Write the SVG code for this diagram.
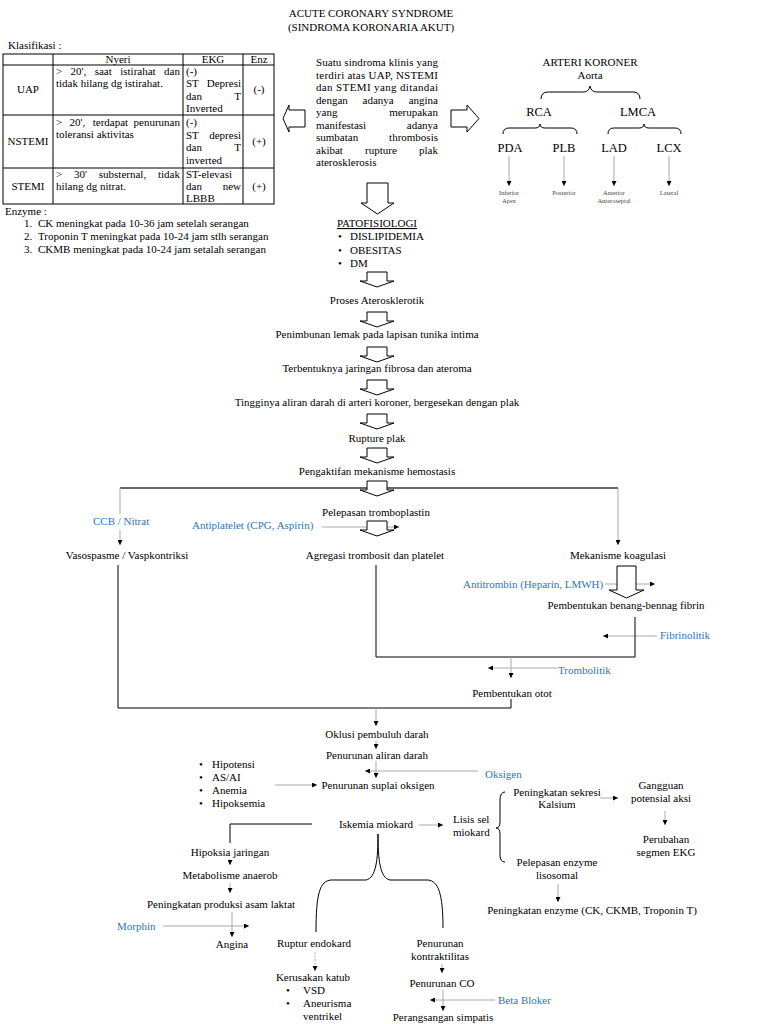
<svg xmlns="http://www.w3.org/2000/svg" width="768" height="1024" viewBox="0 0 768 1024">
<style>
text{font-family:"Liberation Serif","Times New Roman",serif;font-size:11px;fill:#000}
.c{text-anchor:middle}
.e{text-anchor:end}
.b{fill:#2E75B6}
.sm{font-size:6.5px;fill:#444}
.lg{font-size:12.5px}
.ln{stroke:#000;stroke-width:1;fill:none}
.dk{stroke:#333;stroke-width:1.3;fill:none}
.gl{stroke:#aaa;stroke-width:1;fill:none}
.ha{fill:#fff;stroke:#000;stroke-width:1}
.tb{fill:none;stroke:#000;stroke-width:1}
</style>
<defs>
<marker id="ah" viewBox="0 0 10 10" refX="10" refY="5" markerWidth="5" markerHeight="5" orient="auto" markerUnits="userSpaceOnUse"><path d="M0,0 L10,5 L0,10 z" fill="#000"/></marker>
<path id="sa" d="M-10,0 H10 V9 H17 L0,15 L-17,9 H-10 Z"/>
</defs>
<rect width="768" height="1024" fill="#fff"/>

<g id="title">
<text x="371" y="17" class="c">ACUTE CORONARY SYNDROME</text>
<text x="371" y="31" class="c">(SINDROMA KORONARIA AKUT)</text>
</g>

<g id="klasifikasi">
<text x="8" y="49">Klasifikasi :</text>
<rect x="3" y="54" width="271" height="150" class="tb"/>
<line x1="3" y1="65" x2="274" y2="65" class="tb"/>
<line x1="3" y1="115" x2="274" y2="115" class="tb"/>
<line x1="3" y1="168" x2="274" y2="168" class="tb"/>
<line x1="53" y1="54" x2="53" y2="204" class="tb"/>
<line x1="183" y1="54" x2="183" y2="204" class="tb"/>
<line x1="243" y1="54" x2="243" y2="204" class="tb"/>
<text x="118" y="63" class="c">Nyeri</text>
<text x="213" y="63" class="c">EKG</text>
<text x="259" y="63" class="c">Enz</text>
<text x="28" y="93" class="c">UAP</text>
<text x="56" y="75">&gt;</text><text x="70.6" y="75">20',</text><text x="94.7" y="75">saat</text><text x="120.2" y="75">istirahat</text><text x="180" y="75" class="e">dan</text>
<text x="56" y="87">tidak hilang dg istirahat.</text>
<text x="186" y="75">(-)</text>
<text x="186" y="87">ST</text><text x="241" y="87" class="e">Depresi</text>
<text x="186" y="99.5">dan</text><text x="241" y="99.5" class="e">T</text>
<text x="186" y="112">Inverted</text>
<text x="259" y="93" class="c">(-)</text>
<text x="28" y="145" class="c">NSTEMI</text>
<text x="56" y="126">&gt;</text><text x="69.6" y="126">20',</text><text x="92.7" y="126">terdapat</text><text x="180" y="126" class="e">penurunan</text>
<text x="56" y="138">toleransi aktivitas</text>
<text x="186" y="126">(-)</text>
<text x="186" y="138.5">ST</text><text x="241" y="138.5" class="e">depresi</text>
<text x="186" y="151">dan</text><text x="241" y="151" class="e">T</text>
<text x="186" y="164">inverted</text>
<text x="259" y="145" class="c">(+)</text>
<text x="28" y="190" class="c">STEMI</text>
<text x="56" y="178">&gt;</text><text x="74" y="178">30'</text><text x="98.8" y="178">substernal,</text><text x="180" y="178" class="e">tidak</text>
<text x="56" y="190">hilang dg nitrat.</text>
<text x="186" y="178">ST-elevasi</text>
<text x="186" y="190">dan</text><text x="241" y="190" class="e">new</text>
<text x="186" y="202">LBBB</text>
<text x="259" y="190" class="c">(+)</text>
</g>

<g id="enzyme">
<text x="5" y="215">Enzyme :</text>
<text x="24" y="227">1.</text><text x="38" y="227">CK meningkat pada 10-36 jam setelah serangan</text>
<text x="24" y="240">2.</text><text x="38" y="240">Troponin T meningkat pada 10-24 jam stlh serangan</text>
<text x="24" y="253">3.</text><text x="38" y="253">CKMB meningkat pada 10-24 jam setalah serangan</text>
</g>

<g id="definisi">
<text x="316" y="66" textLength="122" lengthAdjust="spacing">Suatu sindroma klinis yang</text>
<text x="316" y="78.5" textLength="122" lengthAdjust="spacing">terdiri atas UAP, NSTEMI</text>
<text x="316" y="91" textLength="122" lengthAdjust="spacing">dan STEMI yang ditandai</text>
<text x="316" y="103.5">dengan</text><text x="362.6" y="103.5">adanya</text><text x="438" y="103.5" class="e">angina</text>
<text x="316" y="116">yang</text><text x="438" y="116" class="e">merupakan</text>
<text x="316" y="128.5">manifestasi</text><text x="438" y="128.5" class="e">adanya</text>
<text x="316" y="141">sumbatan</text><text x="438" y="141" class="e">thrombosis</text>
<text x="316" y="153.5">akibat</text><text x="365" y="153.5">rupture</text><text x="438" y="153.5" class="e">plak</text>
<text x="316" y="166">aterosklerosis</text>
</g>

<g id="arteri-koroner">
<text x="590" y="66" class="c">ARTERI KORONER</text>
<text x="590" y="79" class="c">Aorta</text>
<path class="ln" d="M541,99 Q541,92 548,92 L583,92 Q589,92 590,86 Q591,92 597,92 L633,92 Q640,92 640,99"/>
<text x="539" y="116" class="c lg">RCA</text>
<text x="638" y="116" class="c lg">LMCA</text>
<path class="ln" d="M503,134 Q503,128 509,128 L535,128 Q540,128 540,124 Q540,128 545,128 L571,128 Q577,128 577,134"/>
<path class="ln" d="M608,134 Q608,128 614,128 L639,128 Q644,128 644,124 Q644,128 649,128 L675,128 Q681,128 681,134"/>
<text x="510" y="152" class="c lg">PDA</text>
<text x="564" y="152" class="c lg">PLB</text>
<text x="614" y="152" class="c lg">LAD</text>
<text x="669" y="152" class="c lg">LCX</text>
<text x="509" y="195" class="c sm">Inferior</text>
<text x="509" y="203" class="c sm">Apex</text>
<text x="564" y="195" class="c sm">Posterior</text>
<text x="614" y="195" class="c sm">Anterior</text>
<text x="614" y="203" class="c sm">Anteroseptal</text>
<text x="669" y="195" class="c sm">Lateral</text>
</g>

<g id="patofisiologi">
<text x="377" y="227" class="c" text-decoration="underline">PATOFISIOLOGI</text>
<text x="340" y="240" class="c">•</text><text x="350" y="240">DISLIPIDEMIA</text>
<text x="340" y="254" class="c">•</text><text x="350" y="254">OBESITAS</text>
<text x="340" y="267" class="c">•</text><text x="350" y="267">DM</text>
</g>

<g id="n-proses"><text x="377" y="304" class="c">Proses Aterosklerotik</text></g>
<g id="n-penimbunan"><text x="377" y="338" class="c">Penimbunan lemak pada lapisan tunika intima</text></g>
<g id="n-terbentuknya"><text x="377" y="372" class="c">Terbentuknya jaringan fibrosa dan ateroma</text></g>
<g id="n-tingginya"><text x="377" y="406" class="c">Tingginya aliran darah di arteri koroner, bergesekan dengan plak</text></g>
<g id="n-rupture"><text x="377" y="442" class="c">Rupture plak</text></g>
<g id="n-pengaktifan"><text x="377" y="475" class="c">Pengaktifan mekanisme hemostasis</text></g>
<g id="n-pelepasan"><text x="376" y="516" class="c">Pelepasan tromboplastin</text></g>
<g id="n-ccb"><text x="93" y="525" class="b">CCB / Nitrat</text></g>
<g id="n-antiplatelet"><text x="192" y="529" class="b">Antiplatelet (CPG, Aspirin)</text></g>
<g id="n-vasospasme"><text x="127" y="559" class="c">Vasospasme / Vaspkontriksi</text></g>
<g id="n-agregasi"><text x="375" y="559" class="c">Agregasi trombosit dan platelet</text></g>
<g id="n-koagulasi"><text x="618" y="559" class="c">Mekanisme koagulasi</text></g>
<g id="n-antitrombin"><text x="463" y="588" class="b">Antitrombin (Heparin, LMWH)</text></g>
<g id="n-fibrin"><text x="626" y="609" class="c">Pembentukan benang-bennag fibrin</text></g>
<g id="n-fibrinolitik"><text x="660" y="639" class="b">Fibrinolitik</text></g>
<g id="n-trombolitik"><text x="558" y="674" class="b">Trombolitik</text></g>
<g id="n-otot"><text x="512" y="697" class="c">Pembentukan otot</text></g>
<g id="n-oklusi"><text x="377" y="738" class="c">Oklusi pembuluh darah</text></g>
<g id="n-aliran"><text x="377" y="759" class="c">Penurunan aliran darah</text></g>
<g id="n-oksigen"><text x="485" y="778" class="b">Oksigen</text></g>
<g id="n-suplai"><text x="378" y="789" class="c">Penurunan suplai oksigen</text></g>
<g id="n-faktor">
<text x="201" y="768" class="c">•</text><text x="212" y="768">Hipotensi</text>
<text x="201" y="781" class="c">•</text><text x="212" y="781">AS/AI</text>
<text x="201" y="794" class="c">•</text><text x="212" y="794">Anemia</text>
<text x="201" y="807" class="c">•</text><text x="212" y="807">Hipoksemia</text>
</g>
<g id="n-iskemia"><text x="376" y="828" class="c">Iskemia miokard</text></g>
<g id="n-lisis"><text x="453" y="823">Lisis sel</text><text x="453" y="836">miokard</text></g>
<g id="n-kalsium"><text x="557" y="796" class="c">Peningkatan sekresi</text><text x="557" y="808" class="c">Kalsium</text></g>
<g id="n-gangguan"><text x="661" y="789" class="c">Gangguan</text><text x="661" y="802" class="c">potensial aksi</text></g>
<g id="n-perubahan"><text x="666" y="843" class="c">Perubahan</text><text x="666" y="856" class="c">segmen EKG</text></g>
<g id="n-lisosomal"><text x="557" y="866" class="c">Pelepasan enzyme</text><text x="557" y="879" class="c">lisosomal</text></g>
<g id="n-enzyme"><text x="592" y="914" class="c">Peningkatan enzyme (CK, CKMB, Troponin T)</text></g>
<g id="n-hipoksia"><text x="230" y="856" class="c">Hipoksia jaringan</text></g>
<g id="n-anaerob"><text x="230" y="879" class="c">Metabolisme anaerob</text></g>
<g id="n-laktat"><text x="221" y="908" class="c">Peningkatan produksi asam laktat</text></g>
<g id="n-morphin"><text x="117" y="930" class="b">Morphin</text></g>
<g id="n-angina"><text x="232" y="948" class="c">Angina</text></g>
<g id="n-ruptur"><text x="314" y="947" class="c">Ruptur endokard</text></g>
<g id="n-katub">
<text x="313" y="981" class="c">Kerusakan katub</text>
<text x="288" y="994" class="c">•</text><text x="303" y="994">VSD</text>
<text x="288" y="1007" class="c">•</text><text x="303" y="1007">Aneurisma</text>
<text x="303" y="1020">ventrikel</text>
</g>
<g id="n-kontraktilitas"><text x="440" y="947" class="c">Penurunan</text><text x="440" y="960" class="c">kontraktilitas</text></g>
<g id="n-co"><text x="442" y="987" class="c">Penurunan CO</text></g>
<g id="n-betabloker"><text x="498" y="1004" class="b">Beta Bloker</text></g>
<g id="n-simpatis"><text x="443" y="1021" class="c" font-size="10">Perangsangan simpatis</text></g>

<g id="connectors">
<line x1="509" y1="156" x2="509" y2="186" class="gl" marker-end="url(#ah)"/>
<line x1="564" y1="156" x2="564" y2="186" class="gl" marker-end="url(#ah)"/>
<line x1="614" y1="156" x2="614" y2="186" class="gl" marker-end="url(#ah)"/>
<line x1="669" y1="156" x2="669" y2="186" class="gl" marker-end="url(#ah)"/>
<path class="ha" d="M305,110 V127 H289 V132 L283,118.5 L289,105 V110 Z"/>
<path class="ha" d="M451,110 H467 V105 L479,118.5 L467,132 V127 H451 Z"/>
<path class="ha" d="M367,183 H388 V203 H394 L377.5,214 L361,203 H367 Z"/>
<use href="#sa" x="377" y="272" class="ha"/>
<use href="#sa" x="377" y="312" class="ha"/>
<use href="#sa" x="377" y="347" class="ha"/>
<use href="#sa" x="377" y="380" class="ha"/>
<use href="#sa" x="377" y="414" class="ha"/>
<use href="#sa" x="377" y="448" class="ha"/>
<line x1="120" y1="488" x2="618" y2="488" class="dk"/>
<use href="#sa" x="377" y="481" class="ha"/>
<line x1="120" y1="488" x2="120" y2="514" class="gl"/>
<line x1="120" y1="530" x2="120" y2="545" class="gl" marker-end="url(#ah)"/>
<line x1="618" y1="488" x2="618" y2="545" class="gl" marker-end="url(#ah)"/>
<line x1="322" y1="527" x2="399" y2="527" class="gl" marker-end="url(#ah)"/>
<use href="#sa" x="377" y="521" class="ha"/>
<line x1="605" y1="584" x2="655" y2="584" class="gl" marker-end="url(#ah)"/>
<path class="ha" d="M617,566 H636 V590 H644 L626.5,598 L609,590 H617 Z"/>
<line x1="657" y1="636" x2="603" y2="636" class="gl" marker-end="url(#ah)"/>
<polyline class="ln" points="376,565 376,657 635,657 635,617"/>
<line x1="511" y1="657" x2="511" y2="678" class="gl" marker-end="url(#ah)"/>
<line x1="557" y1="668" x2="488" y2="668" class="gl" marker-end="url(#ah)"/>
<polyline class="ln" points="118,565 118,708 511,708 511,699"/>
<line x1="376" y1="708" x2="376" y2="726" class="gl" marker-end="url(#ah)"/>
<line x1="376" y1="741" x2="376" y2="749" class="gl" marker-end="url(#ah)"/>
<line x1="376" y1="761" x2="376" y2="778" class="gl" marker-end="url(#ah)"/>
<line x1="478" y1="771" x2="365" y2="771" class="gl" marker-end="url(#ah)"/>
<line x1="275" y1="785" x2="317" y2="785" class="gl" marker-end="url(#ah)"/>
<line x1="419" y1="825" x2="443" y2="825" class="gl" marker-end="url(#ah)"/>
<path class="ln" d="M505,792 Q500,792 500,800 L500,822 Q500,828 496,828 Q500,828 500,834 L500,855 Q500,862 505,862"/>
<line x1="600" y1="798" x2="618" y2="798" class="gl" marker-end="url(#ah)"/>
<line x1="665" y1="811" x2="665" y2="825" class="gl" marker-end="url(#ah)"/>
<line x1="558" y1="884" x2="558" y2="902" class="gl" marker-end="url(#ah)"/>
<polyline class="ln" points="312,824 230,824 230,843"/>
<line x1="230" y1="859" x2="230" y2="865" class="gl" marker-end="url(#ah)"/>
<line x1="230" y1="883" x2="230" y2="893" class="gl" marker-end="url(#ah)"/>
<line x1="232" y1="912" x2="232" y2="937" class="gl" marker-end="url(#ah)"/>
<line x1="163" y1="926" x2="249" y2="926" class="gl" marker-end="url(#ah)"/>
<path class="ln" d="M378,834 C378,860 376,878 366,880 L331,880 C320,881 316,893 316,932"/>
<path class="ln" d="M378,834 C378,860 380,878 390,880 L428,880 C438,881 443,893 443,928"/>
<line x1="315" y1="952" x2="315" y2="971" class="gl" stroke-dasharray="2 1.5" marker-end="url(#ah)"/>
<line x1="442" y1="964" x2="442" y2="973" class="gl" marker-end="url(#ah)"/>
<line x1="443" y1="990" x2="443" y2="1011" class="gl" marker-end="url(#ah)"/>
<line x1="495" y1="1000" x2="430" y2="1000" class="gl" marker-end="url(#ah)"/>
</g>
</svg>
